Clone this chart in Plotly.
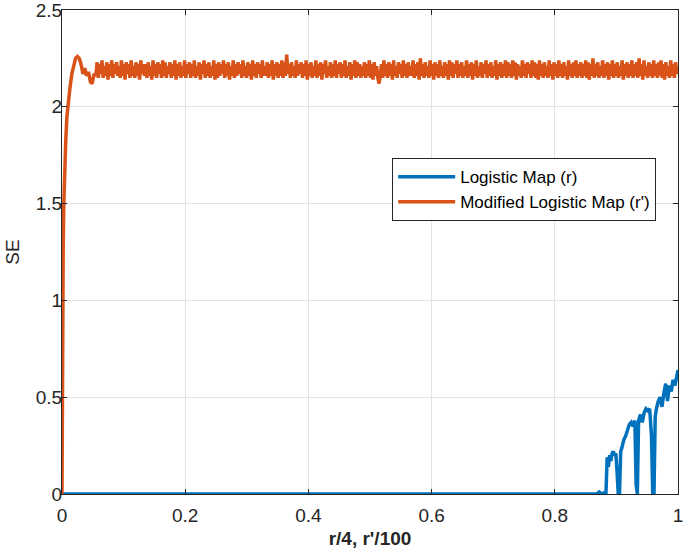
import numpy as np
import plotly.graph_objects as go

# Logistic Map (r)
logistic_x = [0, 0.868, 0.872, 0.876, 0.880, 0.883, 0.885, 0.887, 0.889, 0.891,
              0.893, 0.895, 0.897, 0.899, 0.901, 0.903, 0.905, 0.907, 0.909, 0.912,
              0.915, 0.918, 0.921, 0.924, 0.927, 0.930, 0.932, 0.934, 0.936, 0.939,
              0.942, 0.945, 0.948, 0.951, 0.954, 0.957, 0.959, 0.961, 0.963, 0.965,
              0.968, 0.971, 0.974, 0.977, 0.980, 0.983, 0.986, 0.989, 0.992, 0.995,
              0.998, 1.0]
logistic_se = [0, 0, 0.01, 0, 0.005, 0, 0.19, 0.14, 0.20, 0.17,
               0.21, 0.22, 0.20, 0.21, 0.12, 0.0, 0.0, 0.22, 0.24, 0.28,
               0.30, 0.33, 0.36, 0.37, 0.35, 0.38, 0.05, 0.0, 0.38, 0.41,
               0.37, 0.42, 0.44, 0.43, 0.44, 0.30, 0.0, 0.0, 0.40, 0.44,
               0.48, 0.50, 0.45, 0.52, 0.57, 0.48, 0.56, 0.53, 0.59, 0.56,
               0.61, 0.64]

# Modified Logistic Map (r') - initial rise
mod_head_x = [0, 0.0005, 0.001, 0.002, 0.003, 0.004, 0.006, 0.008, 0.010, 0.013,
              0.016, 0.019, 0.022, 0.025, 0.028, 0.031, 0.034, 0.037, 0.040, 0.043,
              0.046, 0.049, 0.052]
mod_head_se = [0, 0.6, 1.0, 1.3, 1.5, 1.65, 1.82, 1.95, 2.02, 2.10,
               2.17, 2.21, 2.25, 2.26, 2.25, 2.22, 2.17, 2.20, 2.16, 2.18,
               2.13, 2.12, 2.17]

# Modified Logistic Map (r') - plateau, sampled evenly from 0.055 to 1
mod_tail_se = [
    2.16, 2.23, 2.15, 2.22, 2.17, 2.24, 2.15, 2.21, 2.16, 2.23, 2.14, 2.22, 2.16, 2.24, 2.15, 2.22, 2.17, 2.23, 2.16, 2.21,
    2.15, 2.24, 2.16, 2.22, 2.14, 2.23, 2.17, 2.22, 2.15, 2.24, 2.16, 2.21, 2.15, 2.23, 2.16, 2.22, 2.14, 2.24, 2.17, 2.22,
    2.16, 2.22, 2.15, 2.23, 2.16, 2.21, 2.14, 2.24, 2.16, 2.22, 2.15, 2.23, 2.17, 2.22, 2.15, 2.24, 2.16, 2.23, 2.15, 2.21,
    2.17, 2.23, 2.15, 2.22, 2.16, 2.24, 2.14, 2.22, 2.16, 2.23, 2.15, 2.21, 2.16, 2.24, 2.15, 2.22, 2.17, 2.23, 2.15, 2.22,
    2.16, 2.24, 2.15, 2.21, 2.16, 2.23, 2.14, 2.22, 2.17, 2.24, 2.15, 2.22, 2.16, 2.23, 2.15, 2.21, 2.16, 2.24, 2.14, 2.22,
    2.15, 2.23, 2.16, 2.22, 2.17, 2.24, 2.15, 2.22, 2.16, 2.23, 2.14, 2.21, 2.16, 2.24, 2.15, 2.22, 2.16, 2.23, 2.17, 2.22,
    2.15, 2.24, 2.16, 2.21, 2.15, 2.23, 2.16, 2.22, 2.14, 2.24, 2.16, 2.22, 2.15, 2.23, 2.17, 2.22, 2.15, 2.24, 2.16, 2.21,
    2.16, 2.23, 2.15, 2.22, 2.16, 2.24, 2.14, 2.22, 2.16, 2.23, 2.15, 2.22, 2.16, 2.24, 2.15, 2.23, 2.16, 2.27, 2.17, 2.22,
    2.15, 2.23, 2.16, 2.21, 2.15, 2.24, 2.16, 2.22, 2.17, 2.23, 2.15, 2.22, 2.16, 2.24, 2.14, 2.22, 2.16, 2.23, 2.15, 2.21,
    2.16, 2.24, 2.15, 2.22, 2.16, 2.23, 2.14, 2.22, 2.17, 2.24, 2.15, 2.21, 2.16, 2.23, 2.15, 2.22, 2.16, 2.24, 2.15, 2.22,
    2.17, 2.23, 2.15, 2.22, 2.16, 2.24, 2.15, 2.21, 2.16, 2.23, 2.14, 2.22, 2.16, 2.24, 2.15, 2.23, 2.16, 2.22, 2.15, 2.21,
    2.16, 2.23, 2.15, 2.22, 2.16, 2.24, 2.15, 2.22, 2.14, 2.23, 2.16, 2.21, 2.15, 2.12, 2.16, 2.22, 2.15, 2.24, 2.16, 2.22,
    2.15, 2.23, 2.16, 2.22, 2.14, 2.24, 2.16, 2.21, 2.15, 2.23, 2.17, 2.22, 2.15, 2.24, 2.16, 2.22, 2.15, 2.23, 2.16, 2.21,
    2.16, 2.24, 2.15, 2.22, 2.16, 2.23, 2.14, 2.25, 2.16, 2.22, 2.15, 2.23, 2.16, 2.21, 2.15, 2.24, 2.16, 2.22, 2.14, 2.23,
    2.16, 2.22, 2.15, 2.24, 2.16, 2.21, 2.15, 2.23, 2.16, 2.22, 2.14, 2.24, 2.16, 2.23, 2.15, 2.22, 2.17, 2.24, 2.15, 2.22,
    2.16, 2.23, 2.15, 2.21, 2.16, 2.24, 2.15, 2.22, 2.16, 2.23, 2.14, 2.22, 2.16, 2.24, 2.15, 2.21, 2.16, 2.23, 2.15, 2.22,
    2.17, 2.24, 2.15, 2.22, 2.16, 2.23, 2.15, 2.21, 2.16, 2.24, 2.14, 2.22, 2.16, 2.23, 2.15, 2.22, 2.16, 2.24, 2.15, 2.23,
    2.16, 2.22, 2.15, 2.24, 2.16, 2.23, 2.14, 2.22, 2.16, 2.21, 2.15, 2.24, 2.16, 2.22, 2.15, 2.23, 2.17, 2.22, 2.15, 2.24,
    2.16, 2.23, 2.15, 2.22, 2.14, 2.24, 2.16, 2.22, 2.15, 2.23, 2.16, 2.21, 2.15, 2.24, 2.16, 2.22, 2.14, 2.23, 2.16, 2.22,
    2.15, 2.24, 2.16, 2.22, 2.15, 2.23, 2.16, 2.21, 2.14, 2.24, 2.16, 2.22, 2.15, 2.23, 2.16, 2.24, 2.15, 2.22, 2.16, 2.23,
    2.15, 2.22, 2.16, 2.24, 2.15, 2.23, 2.14, 2.22, 2.16, 2.25, 2.15, 2.22, 2.16, 2.23, 2.15, 2.21, 2.16, 2.24, 2.15, 2.22,
    2.16, 2.23, 2.14, 2.22, 2.16, 2.24, 2.15, 2.22, 2.16, 2.23, 2.15, 2.21, 2.16, 2.24, 2.14, 2.22, 2.16, 2.23, 2.15, 2.22,
    2.16, 2.24, 2.15, 2.22, 2.16, 2.23, 2.15, 2.25, 2.16, 2.22, 2.14, 2.24, 2.16, 2.21, 2.15, 2.23, 2.16, 2.22, 2.15, 2.24,
    2.16, 2.22, 2.15, 2.23, 2.16, 2.24, 2.15, 2.22, 2.14, 2.23, 2.16, 2.21, 2.15, 2.24, 2.16, 2.22, 2.15, 2.23, 2.17, 2.21,
]
mod_tail_x = np.linspace(0.055, 1.0, len(mod_tail_se))

mod_x = list(mod_head_x) + list(mod_tail_x)
mod_se = mod_head_se + mod_tail_se

x_ticks = [0, 0.2, 0.4, 0.6, 0.8, 1]
x_ticktext = ["0", "0.2", "0.4", "0.6", "0.8", "1"]
y_ticks = [0, 0.5, 1, 1.5, 2, 2.5]
y_ticktext = ["0", "0.5", "1", "1.5", "2", "2.5"]

font = "Liberation Sans, Arial, sans-serif"
axis_col = "#262626"

fig = go.Figure()
fig.add_trace(go.Scatter(
    x=logistic_x, y=logistic_se, mode="lines", name="Logistic Map (r)",
    line=dict(color="#0072BD", width=3.5),
))
fig.add_trace(go.Scatter(
    x=mod_x, y=mod_se, mode="lines", name="Modified Logistic Map (r')",
    line=dict(color="#D95319", width=3.5),
))

axis_common = dict(
    showline=True, mirror="allticks", linecolor=axis_col, linewidth=1,
    ticks="inside", ticklen=5, tickcolor=axis_col,
    showgrid=True, gridcolor="#e3e3e3", gridwidth=1,
    zeroline=False, automargin=False, ticklabeloverflow="allow",
    tickfont=dict(size=19, color=axis_col, family=font),
)

fig.update_layout(
    width=685, height=555,
    margin=dict(l=62, r=7, t=10, b=61),
    paper_bgcolor="white", plot_bgcolor="white",
    font=dict(family=font, size=19, color=axis_col),
    xaxis=dict(
        range=[0, 1], tickvals=x_ticks, ticktext=x_ticktext, ticklabelstandoff=4,
        title=dict(text="<b>r/4, r'/100</b>", font=dict(size=19), standoff=6),
        **axis_common,
    ),
    yaxis=dict(
        range=[0, 2.5], tickvals=y_ticks, ticktext=y_ticktext, ticklabelstandoff=-5,
        title=dict(text="SE", font=dict(size=19), standoff=11),
        **axis_common,
    ),
    legend=dict(
        x=0.536, y=0.694, xanchor="left", yanchor="top",
        bgcolor="white", bordercolor=axis_col, borderwidth=1,
        font=dict(size=17, color="black"), tracegroupgap=0, itemwidth=57,
    ),
    showlegend=True,
)

# page body margin off so the figure sits at the window's top-left corner
fig.write_html("out.html", config={"displayModeBar": False},
               post_script="document.body.style.margin='0';")
